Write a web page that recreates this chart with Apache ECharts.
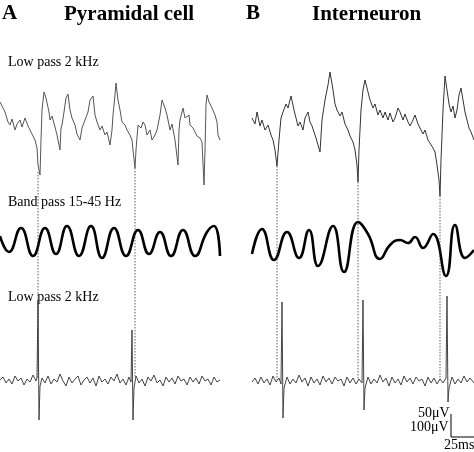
<!DOCTYPE html><html><head><meta charset="utf-8">
<script src="https://cdn.jsdelivr.net/npm/echarts@6/dist/echarts.min.js"></script>
<style>html,body{margin:0;background:#fff}#c{width:474px;height:452px}</style></head><body><div id="c"></div><script>
const lfpA=[[0,102],[3,108],[5,112],[8,122],[10,125],[12,119],[15,130],[17,124],[20,120],[22,127],[25,118],[28,126],[30,130],[33,136],[35,140],[37,148],[38,165],[40,175],[41,140],[42,110],[44,92],[46,98],[47,100],[49,112],[50,120],[52,116],[55,127],[57,135],[58,140],[60,150],[61,128],[62,125],[64,112],[66,98],[68,94],[70,110],[72,118],[75,125],[77,134],[80,140],[82,128],[85,120],[88,112],[90,100],[93,96],[95,115],[97,122],[100,130],[102,126],[105,135],[107,132],[110,145],[112,130],[113,115],[115,95],[116,83],[118,100],[120,110],[122,122],[125,125],[127,130],[130,135],[132,140],[133,150],[135,168],[136,150],[138,125],[141,128],[143,122],[145,125],[147,135],[150,130],[152,140],[155,135],[157,130],[160,115],[162,100],[163,98],[165,108],[167,115],[170,130],[172,124],[175,140],[177,138],[178,165],[179,130],[180,120],[182,112],[183,108],[185,118],[187,120],[189,115],[190,125],[193,128],[195,130],[197,136],[200,138],[202,142],[203,140],[204,185],[205,150],[206,105],[207,95],[209,102],[210,100],[212,108],[215,115],[217,122],[218,135],[220,140]];
const lfpB=[[252,118],[255,124],[257,112],[260,126],[262,120],[265,130],[268,125],[271,135],[273,140],[275,150],[277,166],[279,140],[281,118],[283,112],[286,104],[288,108],[291,96],[294,110],[296,118],[298,126],[300,122],[303,130],[305,118],[308,112],[310,122],[312,126],[314,132],[316,138],[318,145],[320,152],[322,120],[325,100],[328,85],[330,72],[333,90],[335,104],[337,110],[340,116],[342,112],[345,124],[348,130],[350,136],[353,142],[355,150],[357,165],[358,182],[359,150],[361,110],[363,90],[365,80],[368,92],[370,100],[373,108],[375,104],[378,115],[380,110],[383,118],[385,112],[388,120],[390,113],[393,122],[395,118],[398,108],[400,112],[403,120],[405,114],[408,122],[410,126],[413,120],[415,115],[418,124],[420,128],[423,134],[425,130],[428,140],[430,138],[433,148],[435,152],[437,165],[439,180],[440,196],[441,160],[443,110],[445,76],[447,90],[449,104],[451,112],[453,106],[455,118],[457,110],[459,95],[461,88],[463,100],[465,112],[467,120],[469,128],[471,132],[474,140]];
const bandA=[[0,236],[9,252],[21,228],[33,256],[45,228],[56,254],[67,226],[79,256],[91,226],[102,258],[114,228],[126,256],[138,230],[149,254],[160,232],[171,256],[183,230],[195,256],[207,232],[214,226],[220,256]];
const bandB=[[252,254],[262,229],[274,260],[287,232],[299,258],[309,230],[318,266],[333,226],[344,272],[358,222],[368,234],[380,259],[390,245],[400,240],[408,243],[415,237],[423,248],[433,234],[446,276],[455,225],[465,258],[474,250]];
const spkA=[[0,380],[3,377],[6,383],[9,379],[12,384],[15,376],[18,381],[21,378],[24,385],[27,379],[30,382],[33,375],[36,381],[37,378],[38,300],[39,420],[40,386],[42,378],[45,383],[48,376],[51,384],[54,379],[57,382],[60,374],[63,381],[66,386],[69,377],[72,383],[75,379],[78,376],[81,385],[84,380],[87,377],[90,383],[93,378],[96,386],[99,376],[102,382],[105,379],[108,384],[111,377],[114,381],[117,374],[120,383],[123,379],[126,385],[129,377],[131,382],[132,330],[133,420],[134,388],[136,376],[139,383],[142,379],[145,386],[148,377],[151,381],[154,375],[157,383],[160,380],[163,386],[166,377],[169,382],[172,378],[175,384],[178,376],[181,381],[184,379],[187,385],[190,377],[193,382],[196,378],[199,384],[202,376],[205,381],[208,379],[211,385],[214,377],[217,382],[220,380]];
const spkB=[[252,382],[255,378],[258,384],[261,377],[264,383],[267,379],[270,385],[273,376],[276,382],[279,378],[281,384],[282,302],[283,418],[284,388],[287,377],[290,384],[293,379],[296,383],[299,375],[302,382],[305,378],[308,386],[311,377],[314,383],[317,379],[320,385],[323,376],[326,382],[329,378],[332,384],[335,377],[338,381],[341,379],[344,386],[347,377],[350,383],[353,378],[356,384],[359,379],[362,383],[363,300],[364,410],[365,388],[368,377],[371,384],[374,379],[377,383],[380,375],[383,382],[386,378],[389,386],[392,377],[395,383],[398,379],[401,385],[404,376],[407,382],[410,378],[413,384],[416,377],[419,381],[422,379],[425,386],[428,377],[431,383],[434,378],[437,384],[440,379],[443,383],[446,378],[447,296],[448,402],[449,388],[452,377],[455,384],[458,379],[461,383],[464,376],[467,382],[470,378],[474,383]];
const dashX=[38,135,277,358,440];
const dashTop=[172,168,166,182,196];
const dashBot=[378,378,380,380,380];
const texts=[["A",2,16,21,"bold"],["Pyramidal cell",64,17,21,"bold"],["B",246,16,21,"bold"],["Interneuron",312,17,21,"bold"],["Low pass 2 kHz",8,64,14,"normal"],["Band pass 15-45 Hz",8,204,14,"normal"],["Low pass 2 kHz",8,299,14,"normal"]];
const ch=echarts.init(document.getElementById('c'));
const ln=(d,c,w,extra)=>Object.assign({type:'line',data:d,showSymbol:false,symbol:'none',lineStyle:{color:c,width:w},animation:false},extra||{});
const series=[ln(lfpA,'#555',1),ln(lfpB,'#333',1),ln(bandA,'#000',2.6,{smooth:0.5}),ln(bandB,'#000',2.6,{smooth:0.5}),ln(spkA,'#444',1),ln(spkB,'#444',1)];
dashX.forEach((x,i)=>series.push(ln([[x,dashTop[i]],[x,dashBot[i]]],'#333',0.8,{lineStyle:{color:'#333',width:0.8,type:[1.5,1.5]}})));
series.push(ln([[451,414],[451,437],[474,437]],'#000',1));
ch.setOption({animation:false,
grid:{left:0,right:0,top:0,bottom:0},
xAxis:{type:'value',min:0,max:474,show:false},
yAxis:{type:'value',min:0,max:452,inverse:true,show:false},
series,
graphic:texts.map(t=>({type:'text',left:t[1],top:t[2]-t[3]/2-2,style:{text:t[0],font:t[4]+' '+t[3]+'px "Liberation Serif"',fill:'#000'}})).concat([
{type:'text',left:418,top:406,style:{text:'50μV',font:'14px "Liberation Serif"',fill:'#000'}},
{type:'text',left:410,top:420,style:{text:'100μV',font:'14px "Liberation Serif"',fill:'#000'}},
{type:'text',left:444,top:438,style:{text:'25ms',font:'14px "Liberation Serif"',fill:'#000'}}])
});
</script></body></html>
